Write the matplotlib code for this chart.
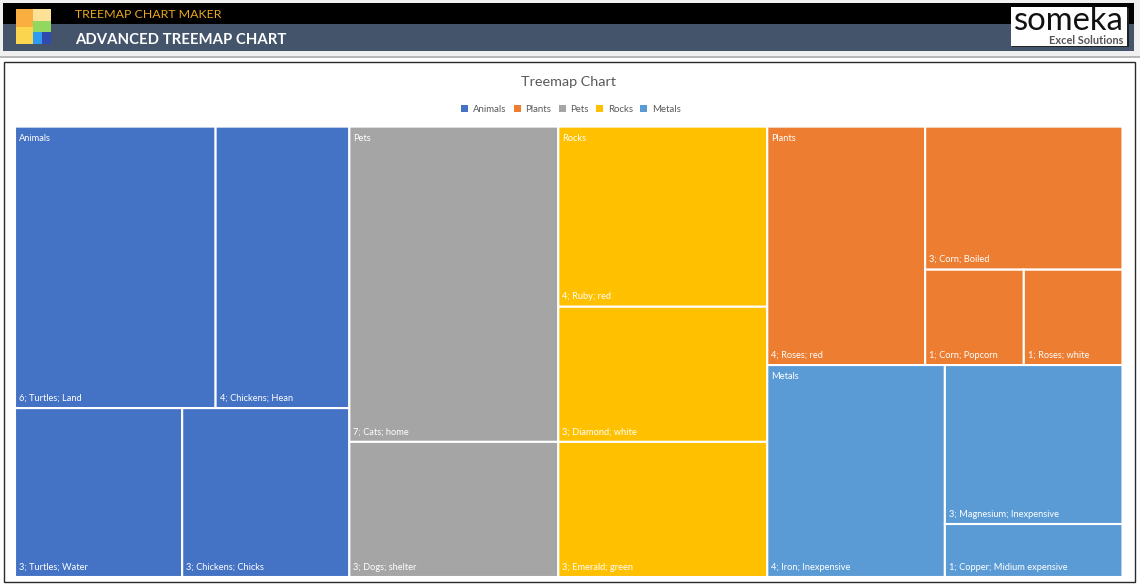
import matplotlib
matplotlib.use("Agg")
import matplotlib.pyplot as plt
from matplotlib.patches import Rectangle, Patch

plt.rcParams['font.family'] = ['Lato', 'DejaVu Sans']

W, H = 1140, 585

# ---- data ----
legend_order = ["Animals", "Plants", "Pets", "Rocks", "Metals"]
colors = {"Animals": "#4472C4", "Plants": "#ED7D31", "Pets": "#A5A5A5",
          "Rocks": "#FFC000", "Metals": "#5B9BD5"}

animals_labels = ["Turtles; Land", "Chickens; Hean", "Turtles; Water", "Chickens; Chicks"]
animals_values = [6, 4, 3, 3]
pets_labels = ["Cats; home", "Dogs; shelter"]
pets_values = [7, 3]
rocks_labels = ["Ruby; red", "Diamond; white", "Emerald; green"]
rocks_values = [4, 3, 3]
plants_labels = ["Roses; red", "Corn; Boiled", "Corn; Popcorn", "Roses; white"]
plants_values = [4, 3, 1, 1]
metals_labels = ["Iron; Inexpensive", "Magnesium; Inexpensive", "Copper; Midium expensive"]
metals_values = [4, 3, 1]

title = "Treemap Chart"
header_top = "TREEMAP CHART MAKER"
header_main = "ADVANCED TREEMAP CHART"

# Split plan: 'h' places children side by side, 'v' stacks them; ints index the values.
animals_plan = ('v', [('h', [0, 1]), ('h', [2, 3])])
pets_plan = ('v', [0, 1])
rocks_plan = ('v', [0, 1, 2])
plants_plan = ('h', [0, ('v', [1, ('h', [2, 3])])])
metals_plan = ('h', [0, ('v', [1, 2])])


def total(node, values):
    if isinstance(node, int):
        return values[node]
    return sum(total(c, values) for c in node[1])


def layout(node, values, x, y, w, h, out):
    """Slice the box (x, y, w, h) proportionally; y runs downward."""
    if isinstance(node, int):
        out[node] = (x, y, w, h)
        return
    direction, children = node
    t = total(node, values)
    for c in children:
        frac = total(c, values) / t
        if direction == 'h':
            layout(c, values, x, y, w * frac, h, out)
            x += w * frac
        else:
            layout(c, values, x, y, w, h * frac, out)
            y += h * frac


fig = plt.figure(figsize=(W / 100, H / 100), dpi=100, facecolor="white")

# ---- page furniture in pixel coordinates ----
bg = fig.add_axes([0, 0, 1, 1], zorder=0)
bg.set_xlim(0, W)
bg.set_ylim(H, 0)
bg.axis("off")


def box(x0, y0, x1, y1, **kw):
    kw.setdefault("linewidth", 0)
    bg.add_patch(Rectangle((x0, y0), x1 - x0, y1 - y0, **kw))


box(0, 0, W, 57, facecolor="#F0F0F0")
box(0, 56, W, 57.5, facecolor="#B8B8B8")
box(3, 3, 1134, 24, facecolor="#000000")
box(3, 24, 1134, 51, facecolor="#44546A")

# logo tiles
box(16, 9, 33, 27, facecolor="#FBAE40")
box(16, 27, 33, 44, facecolor="#FBD54E")
box(33, 9, 51, 21, facecolor="#FCE196")
box(33, 21, 51, 32, facecolor="#92D85F")
box(33, 32, 42, 44, facecolor="#2F9BF0")
box(42, 32, 51, 44, facecolor="#2F4BB0")

bg.text(75, 14.5, header_top, color="#E8A71C", fontsize=8.9, va="center", ha="left")
bg.text(75, 40, header_main, color="white", fontsize=10.7, fontweight="bold", va="center", ha="left")

# brand box
box(1012, 8, 1129, 47, facecolor="#222222")
box(1011, 7, 1127, 46, facecolor="white")
bg.text(1069, 20.5, "someka", color="#111111", fontsize=23.6, va="center", ha="center")
bg.text(1123, 40.5, "Excel Solutions", color="#555555", fontsize=7.9, fontweight="bold", va="center", ha="right")

# chart frame
box(4, 61.5, 1135, 582, facecolor="white", edgecolor="#2A2A2A", linewidth=1.0)
bg.text(568.5, 82, title, color="#595959", fontsize=10.4, va="center", ha="center")

# ---- treemap ----
px0, px1, py0, py1 = 15, 1122.5, 126.6, 577
ax = fig.add_axes([px0 / W, 1 - py1 / H, (px1 - px0) / W, (py1 - py0) / H], zorder=1)
ax.axis("off")

groups = [("Animals", animals_labels, animals_values, animals_plan),
          ("Pets", pets_labels, pets_values, pets_plan),
          ("Rocks", rocks_labels, rocks_values, rocks_plan),
          ("Plants", plants_labels, plants_values, plants_plan),
          ("Metals", metals_labels, metals_values, metals_plan)]

grand = sum(sum(g[2]) for g in groups)
col_plan = [["Animals"], ["Pets"], ["Rocks"], ["Plants", "Metals"]]
by_name = {g[0]: g for g in groups}
ax.set_xlim(0, grand)
ax.set_ylim(1, 0)

PADX = 4 / (px1 - px0) * grand
PADY = 1 / (py1 - py0)
x = 0.0
for col in col_plan:
    col_sum = sum(sum(by_name[n][2]) for n in col)
    y = 0.0
    for name in col:
        _, labels, values, plan = by_name[name]
        gh = sum(values) / col_sum
        rects = {}
        layout(plan, values, x, y, col_sum, gh, rects)
        for i, (rx, ry, rw, rh) in rects.items():
            ax.bar(rx, rh, width=rw, bottom=ry, align="edge", color=colors[name],
                   edgecolor="white", linewidth=1.5, snap=False)
            ax.text(rx + PADX, ry + rh - 10 * PADY, f"{values[i]}; {labels[i]}",
                    color="white", fontsize=6.7, va="center", ha="left")
            if i == 0:
                ax.text(rx + PADX, ry + 11.5 * PADY, name, color="white",
                        fontsize=6.7, va="center", ha="left")
        y += gh
    x += col_sum

handles = [Patch(facecolor=colors[n], label=n) for n in legend_order]
fig.legend(handles=handles, ncol=5, loc="center", bbox_to_anchor=(571 / W, 1 - 109 / H),
           frameon=False, fontsize=6.9, labelcolor="#595959", handlelength=0.75, handleheight=0.75,
           handletextpad=0.5, columnspacing=0.72, borderpad=0, borderaxespad=0)

fig.savefig("out.png", dpi=100, facecolor="white")
